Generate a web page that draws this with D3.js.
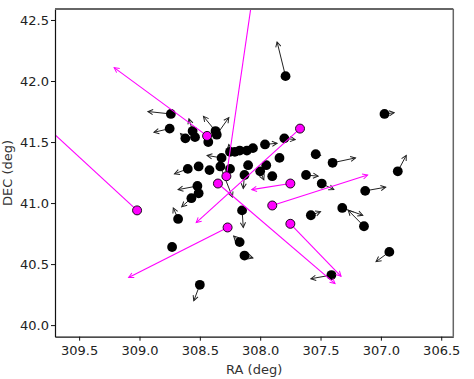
<!DOCTYPE html>
<html>
<head>
<meta charset="utf-8">
<script src="https://cdn.jsdelivr.net/npm/d3@7"></script>
<style>
  body { margin: 0; background: #fff; }
  svg { display: block; font-family: "DejaVu Sans", sans-serif; }
</style>
</head>
<body>
<svg></svg>
<script>
// black sources: position and arrow tip (null = no arrow)
let blackRa = [307.79, 306.97, 308.74, 308.75, 308.62, 308.56, 308.54, 308.43, 308.37, 308.36,
               308.25, 308.21, 308.17, 308.11, 308.06, 307.96, 307.80, 307.84, 308.32, 308.33,
               308.25, 308.42, 308.51, 308.60, 308.10, 308.00, 307.95, 307.90, 307.62, 307.54,
               307.40, 307.49, 307.13, 306.86, 308.52, 308.51, 308.57, 308.68, 308.13, 308.15,
               308.17, 307.58, 308.13, 308.73, 308.50, 307.41, 307.32, 307.14, 306.93]
let blackDec = [42.04, 41.73, 41.73, 41.61, 41.53, 41.59, 41.54, 41.50, 41.59, 41.56,
                41.42, 41.42, 41.43, 41.43, 41.45, 41.48, 41.53, 41.37, 41.37, 41.30,
                41.28, 41.27, 41.30, 41.28, 41.31, 41.26, 41.31, 41.22, 41.23, 41.40,
                41.33, 41.16, 41.10, 41.26, 41.14, 41.08, 41.04, 40.87, 41.23, 40.94,
                40.68, 40.90, 40.57, 40.64, 40.33, 40.41, 40.96, 40.81, 40.60]
let blackRaTip = [307.86, 306.89, 308.93, 308.88, 308.66, 308.59, null, null, 308.47, 308.26,
                  308.26, null, null, null, null, 307.86, 307.71, null, 308.44, 308.23,
                  null, null, null, 308.71, null, 307.97, null, null, 307.52, 307.50,
                  307.21, 307.39, 306.96, 306.79, 308.68, null, 308.65, 308.72, 308.14, 308.14,
                  308.22, 307.50, 308.06, null, 308.55, 307.58, 307.15, 307.27, 307.04]
let blackDecTip = [42.32, 41.74, 41.75, 41.58, 41.57, 41.69, null, null, 41.71, 41.70,
                   41.48, null, null, null, null, 41.49, 41.52, null, 41.39, 41.05,
                   null, null, null, 41.24, null, 41.19, null, null, 41.22, 41.39,
                   41.37, 41.11, 41.13, 41.39, 41.11, null, 40.97, 40.96, 41.12, 40.80,
                   40.73, 40.93, 40.55, null, 40.20, 40.38, 40.90, 40.94, 40.52]

// magenta sources
let magRa = [309.02, 308.44, 308.28, 308.35, 307.67, 307.75, 307.90, 307.75, 308.27]
let magDec = [40.94, 41.55, 41.22, 41.16, 41.61, 41.16, 40.98, 40.83, 40.80]
let magRaTip = [310.24, 309.21, 308.02, 307.38, 308.53, 308.07, 307.11, 307.33, 309.09]
let magDecTip = [42.05, 42.11, 42.99, 40.34, 40.84, 41.11, 41.23, 40.40, 40.39]

let xTicks = [309.5, 309.0, 308.5, 308.0, 307.5, 307.0, 306.5]
let yTicks = [40.0, 40.5, 41.0, 41.5, 42.0, 42.5]

let blackPts = blackRa.map((d, i) => ({ra: d, dec: blackDec[i], ra2: blackRaTip[i], dec2: blackDecTip[i]}))
let magPts = magRa.map((d, i) => ({ra: d, dec: magDec[i], ra2: magRaTip[i], dec2: magDecTip[i]}))

let width = 474, height = 379
let margin = {top: 9, right: 20.7, bottom: 42.3, left: 55}
let innerWidth = width - margin.left - margin.right,
    innerHeight = height - margin.top - margin.bottom

let svg = d3.select('svg')
            .attr('width', width)
            .attr('height', height)

let defs = svg.append('defs')
defs.append('clipPath').attr('id', 'plotClip')
    .append('rect')
    .attr('width', innerWidth)
    .attr('height', innerHeight)

function addHead(id, colour) {
  defs.append('marker')
      .attr('id', id)
      .attr('viewBox', '-7 -5 10 10')
      .attr('markerWidth', 10)
      .attr('markerHeight', 10)
      .attr('markerUnits', 'userSpaceOnUse')
      .attr('refX', 0)
      .attr('refY', 0)
      .attr('orient', 'auto')
      .append('path')
      .attr('d', 'M-5,-2.6L0,0L-5,2.6')
      .attr('fill', 'none')
      .attr('stroke', colour)
      .attr('stroke-width', 1)
}
addHead('headBlack', '#222')
addHead('headMag', '#ff00ff')

let g = svg.append('g')
           .attr('transform', 'translate(' + margin.left + ',' + margin.top + ')')

// x scale (RA runs backwards)
let raScale = d3.scaleLinear()
      .domain([309.70, 306.40])
      .range([0, innerWidth])

// y scale
let decScale = d3.scaleLinear()
      .domain([39.905, 42.59])
      .range([innerHeight, 0])

let plot = g.append('g').attr('clip-path', 'url(#plotClip)')

plot.selectAll('line.blackArrow')
    .data(blackPts.filter(d => d.ra2 !== null))
    .enter()
    .append('line')
    .attr('class', 'blackArrow')
    .attr('x1', d => raScale(d.ra))
    .attr('y1', d => decScale(d.dec))
    .attr('x2', d => raScale(d.ra2))
    .attr('y2', d => decScale(d.dec2))
    .attr('stroke', '#222')
    .attr('stroke-width', 1)
    .attr('marker-end', 'url(#headBlack)')

plot.selectAll('circle.black')
    .data(blackPts)
    .enter()
    .append('circle')
    .attr('class', 'black')
    .attr('cx', d => raScale(d.ra))
    .attr('cy', d => decScale(d.dec))
    .attr('r', 4.9)
    .attr('fill', '#000')

plot.selectAll('line.magArrow')
    .data(magPts)
    .enter()
    .append('line')
    .attr('class', 'magArrow')
    .attr('x1', d => raScale(d.ra))
    .attr('y1', d => decScale(d.dec))
    .attr('x2', d => raScale(d.ra2))
    .attr('y2', d => decScale(d.dec2))
    .attr('stroke', '#ff00ff')
    .attr('stroke-width', 1.1)
    .attr('marker-end', 'url(#headMag)')

plot.selectAll('circle.mag')
    .data(magPts)
    .enter()
    .append('circle')
    .attr('class', 'mag')
    .attr('cx', d => raScale(d.ra))
    .attr('cy', d => decScale(d.dec))
    .attr('r', 4.5)
    .attr('fill', '#ff00ff')
    .attr('stroke', '#000')
    .attr('stroke-width', 0.9)

// axes
let xAxis = d3.axisBottom(raScale)
              .tickValues(xTicks)
              .tickFormat(d3.format('.1f'))
              .tickSize(4)
              .tickSizeOuter(0)
let yAxis = d3.axisLeft(decScale)
              .tickValues(yTicks)
              .tickFormat(d3.format('.1f'))
              .tickSize(4)
              .tickSizeOuter(0)

let gx = g.append('g')
          .attr('transform', 'translate(0,' + innerHeight + ')')
          .call(xAxis)
let gy = g.append('g').call(yAxis)

;[gx, gy].forEach(a => {
  a.selectAll('path').attr('stroke', '#111').attr('stroke-width', 1.2)
  a.selectAll('line').attr('stroke', '#111')
  a.selectAll('text').attr('fill', '#222').style('font-size', '13px')
    .style('font-family', '"DejaVu Sans", sans-serif')
})
gx.selectAll('text').attr('dy', '0.9em')
gy.selectAll('text').attr('x', -6)

// grey top and right spines
g.append('line')
 .attr('x1', 0).attr('x2', innerWidth).attr('y1', 0).attr('y2', 0)
 .attr('stroke', '#666').attr('stroke-width', 2)
g.append('line')
 .attr('x1', innerWidth).attr('x2', innerWidth).attr('y1', 0).attr('y2', innerHeight)
 .attr('stroke', '#666').attr('stroke-width', 1.5)

g.append('text')
 .attr('x', innerWidth / 2)
 .attr('y', innerHeight + 37)
 .attr('text-anchor', 'middle')
 .attr('fill', '#333')
 .style('font-size', '13px')
 .text('RA (deg)')

g.append('text')
 .attr('transform', 'translate(' + (-43) + ',' + (innerHeight / 2) + ') rotate(-90)')
 .attr('text-anchor', 'middle')
 .attr('fill', '#333')
 .style('font-size', '13px')
 .text('DEC (deg)')
</script>
</body>
</html>
